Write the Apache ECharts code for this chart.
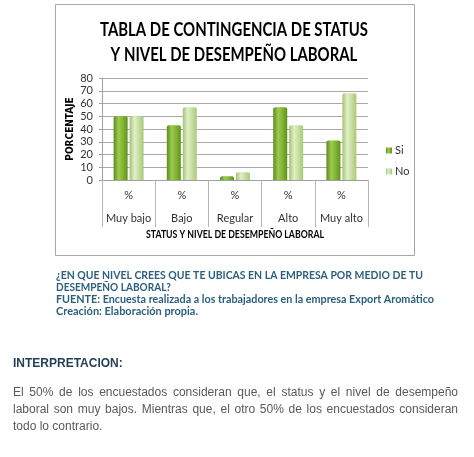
<!DOCTYPE html>
<html><head><meta charset="utf-8">
<script src="https://cdn.jsdelivr.net/npm/echarts@6/dist/echarts.min.js"></script>
<style>html,body{margin:0;padding:0;background:#fff}#c{width:474px;height:457px}</style>
</head><body><div id="c"></div>
<script>
const categories = ['Muy bajo', 'Bajo', 'Regular', 'Alto', 'Muy alto'];
const rowLabel = '%';
const seriesNames = ['Si', 'No'];
const siValues = [50, 43, 3, 57, 31];
const noValues = [50, 57, 6, 43, 68];
const yMin = 0, yMax = 80, yInterval = 10;
const titleLines = ['TABLA DE CONTINGENCIA DE STATUS', 'Y NIVEL DE DESEMPEÑO LABORAL'];
const xAxisName = 'STATUS Y NIVEL DE DESEMPEÑO LABORAL';
const yAxisName = 'PORCENTAJE';
const captionLines = [
  '¿EN QUE NIVEL CREES QUE TE UBICAS EN LA EMPRESA POR MEDIO DE TU',
  'DESEMPEÑO LABORAL?',
  'FUENTE: Encuesta realizada a los trabajadores en la empresa Export Aromático',
  'Creación: Elaboración propia.'
];
const interpTitle = 'INTERPRETACION:';
const interpLines = [
  'El 50% de los encuestados consideran que, el status y el nivel de desempeño',
  'laboral son muy bajos. Mientras que, el otro 50% de los encuestados consideran',
  'todo lo contrario.'
];

const NARROW = "'DejaVu Sans Condensed', 'Liberation Sans Narrow', sans-serif";
const TITLEF = "Lato, 'DejaVu Sans Condensed', sans-serif";
const SANS = "'Liberation Sans', Arial, sans-serif";

const mctx = document.createElement('canvas').getContext('2d');
function textW(font, t) { mctx.font = font; return mctx.measureText(t).width; }

const G = echarts.graphic.LinearGradient;
const siFill = new G(0, 0, 1, 0, [
  {offset: 0, color: '#5a8a1c'}, {offset: 0.35, color: '#9dcb4e'}, {offset: 0.7, color: '#7fb12e'}, {offset: 1, color: '#5f9020'}
]);
const noFill = new G(0, 0, 1, 0, [
  {offset: 0, color: '#a4c274'}, {offset: 0.35, color: '#dff0c6'}, {offset: 0.7, color: '#c2dc9a'}, {offset: 1, color: '#a9c77c'}
]);

const chart = echarts.init(document.getElementById('c'), null, {renderer: 'canvas'});

const titleFont = 'bold 18px ' + TITLEF;
const titleScale = 268 / textW(titleFont, titleLines[0]);
const capFont = 'bold 11px ' + TITLEF;
const capWidths = [367, 115, 378, 142];

const graphics = [
  {type: 'rect', z: -10, shape: {x: 55.5, y: 4.5, width: 359, height: 251},
   style: {fill: '#fff', stroke: '#a6a6a6', lineWidth: 1}}
];
const tY = [30, 55];
titleLines.forEach((t, i) => graphics.push({type: 'text', x: 234, y: tY[i], scaleX: titleScale,
  style: {text: t, x: 0, y: 0, align: 'center', verticalAlign: 'middle', font: titleFont, fill: '#000'}}));
// x-axis title drawn as scaled text to mimic the narrow original font
const xnFont = 'bold 11px ' + TITLEF;
graphics.push({type: 'text', x: 235, y: 234, scaleX: 178 / textW(xnFont, xAxisName),
  style: {text: xAxisName, x: 0, y: 0, align: 'center', verticalAlign: 'middle', font: xnFont, fill: '#000'}});
const capY = [275, 287, 299, 311];
captionLines.forEach((t, i) => graphics.push({type: 'text', x: 56, y: capY[i],
  scaleX: capWidths[i] / textW(capFont, t),
  style: {text: t, x: 0, y: 0, verticalAlign: 'middle', font: capFont, fill: '#2c5f7e'}}));
graphics.push({type: 'text', style: {text: interpTitle, x: 13, y: 364, verticalAlign: 'middle',
  font: 'bold 12px ' + SANS, fill: '#243f58'}});
// justified paragraph: last line left-aligned
const pFont = '12px ' + SANS;
const pY = [393, 410, 427];
const pLeft = 13, pRight = 458;
interpLines.forEach((line, i) => {
  const words = line.split(' ');
  if (i === interpLines.length - 1) {
    graphics.push({type: 'text', style: {text: line, x: pLeft, y: pY[i], verticalAlign: 'middle', font: pFont, fill: '#595959'}});
    return;
  }
  const ws = words.map(w => textW(pFont, w));
  const total = ws.reduce((a, b) => a + b, 0);
  const gap = (pRight - pLeft - total) / (words.length - 1);
  let x = pLeft;
  words.forEach((w, k) => {
    graphics.push({type: 'text', style: {text: w, x: x, y: pY[i], verticalAlign: 'middle', font: pFont, fill: '#595959'}});
    x += ws[k] + gap;
  });
});

chart.setOption({
  animation: false,
  backgroundColor: '#fff',
  graphic: graphics,
  legend: {
    data: seriesNames, orient: 'vertical', left: 386, top: 145, padding: 0,
    itemWidth: 6, itemHeight: 6, itemGap: 10, icon: 'rect',
    textStyle: {fontSize: 11, fontFamily: TITLEF, color: '#333', padding: [0, 0, 0, -2]}
  },
  grid: {left: 102, right: 106, top: 78, bottom: 277, containLabel: false},
  xAxis: {
    type: 'category', data: categories,
    axisLine: {lineStyle: {color: '#a0a0a0'}},
    axisTick: {show: true, length: 47, interval: 0, lineStyle: {color: '#b5b5b5'}},
    axisLabel: {
      interval: 0, margin: 4,
      formatter: v => '{p|' + rowLabel + '}\n{n|' + v + '}',
      rich: {
        p: {fontSize: 11, lineHeight: 23, fontFamily: TITLEF, color: '#333'},
        n: {fontSize: 11, lineHeight: 23, fontFamily: TITLEF, color: '#333'}
      }
    }
  },
  yAxis: {
    type: 'value', min: yMin, max: yMax, interval: yInterval,
    axisLine: {show: true, lineStyle: {color: '#a0a0a0'}},
    axisTick: {show: true, length: 3, lineStyle: {color: '#a0a0a0'}},
    splitLine: {lineStyle: {color: '#a8a8a8'}},
    axisLabel: {fontSize: 11, fontFamily: TITLEF, color: '#333', margin: 9},
    name: yAxisName, nameLocation: 'middle', nameGap: 27, nameRotate: 90, nameMoveOverlap: false,
    nameTextStyle: {fontSize: 10, fontWeight: 'bold', fontFamily: NARROW, color: '#000'}
  },
  series: [
    {name: seriesNames[0], type: 'bar', data: siValues, barWidth: 14, barGap: '14%',
     itemStyle: {color: siFill, borderRadius: [2, 2, 0, 0]}},
    {name: seriesNames[1], type: 'bar', data: noValues, barWidth: 14,
     itemStyle: {color: noFill, borderRadius: [2, 2, 0, 0]}}
  ]
});
</script></body></html>
